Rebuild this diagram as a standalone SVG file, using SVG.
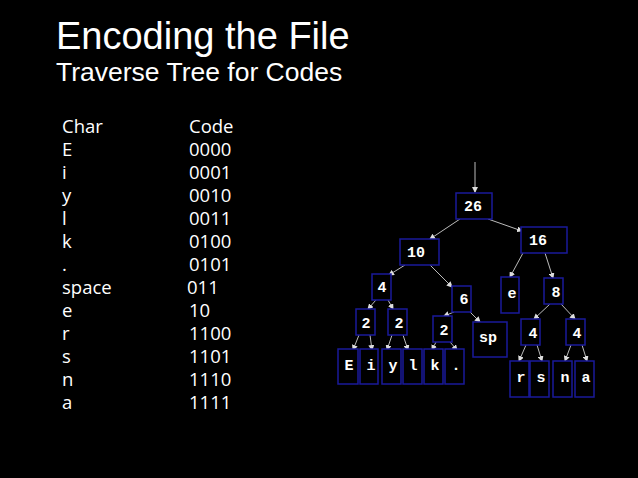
<svg xmlns="http://www.w3.org/2000/svg" width="638" height="478" viewBox="0 0 638 478">
<style>
.t{font-family:"Liberation Sans",Arial,sans-serif;fill:#fff}
.c{font-family:"Open Sans","Liberation Sans",sans-serif;fill:#fff;font-size:18.5px}
.n rect{fill:#000;stroke:#1a1a9a;stroke-width:1.5}
.n text{font-family:"Liberation Mono","Courier New",monospace;font-weight:bold;fill:#fff;font-size:15px;text-anchor:middle}
#edges line{stroke:#bbb;stroke-width:1;marker-end:url(#a)}
</style>
<defs><marker id="a" markerWidth="6" markerHeight="6" refX="5" refY="3" orient="auto" markerUnits="userSpaceOnUse"><path d="M0,0L6,3L0,6z" fill="#ddd"/></marker></defs>
<rect width="638" height="478" fill="#000"/>
<text class="t" x="56" y="49" font-size="38">Encoding the File</text>
<text class="t" x="56" y="81" font-size="26.5">Traverse Tree for Codes</text>
<g class="c">
<text x="62" y="133">Char</text><text x="189" y="133">Code</text>
<text x="62" y="156">E</text><text x="189" y="156">0000</text>
<text x="62" y="179">i</text><text x="189" y="179">0001</text>
<text x="62" y="202">y</text><text x="189" y="202">0010</text>
<text x="62" y="225">l</text><text x="189" y="225">0011</text>
<text x="62" y="248">k</text><text x="189" y="248">0100</text>
<text x="62" y="271">.</text><text x="189" y="271">0101</text>
<text x="62" y="294">space</text><text x="187" y="294">011</text>
<text x="62" y="317">e</text><text x="189" y="317">10</text>
<text x="62" y="340">r</text><text x="189" y="340">1100</text>
<text x="62" y="363">s</text><text x="189" y="363">1101</text>
<text x="62" y="386">n</text><text x="189" y="386">1110</text>
<text x="62" y="409">a</text><text x="189" y="409">1111</text>
</g>
<g id="edges">
<line x1="475" y1="162" x2="475" y2="192"/>
<line x1="460" y1="219" x2="430" y2="239"/>
<line x1="488" y1="219" x2="522" y2="231"/>
<line x1="405" y1="265" x2="389" y2="275"/>
<line x1="430" y1="265" x2="452" y2="287"/>
<line x1="523" y1="253" x2="510" y2="277"/>
<line x1="545" y1="253" x2="553" y2="278"/>
<line x1="376" y1="300" x2="368" y2="309"/>
<line x1="388" y1="300" x2="393" y2="309"/>
<line x1="454" y1="312" x2="444" y2="316"/>
<line x1="470" y1="312" x2="480" y2="322"/>
<line x1="550" y1="304" x2="534" y2="319"/>
<line x1="561" y1="304" x2="575" y2="319"/>
<line x1="359" y1="335" x2="353" y2="350"/>
<line x1="370" y1="335" x2="372" y2="350"/>
<line x1="392" y1="335" x2="387" y2="350"/>
<line x1="403" y1="335" x2="408" y2="350"/>
<line x1="436" y1="342" x2="432" y2="350"/>
<line x1="450" y1="342" x2="457" y2="350"/>
<line x1="526" y1="345" x2="519" y2="361"/>
<line x1="537" y1="345" x2="542" y2="361"/>
<line x1="571" y1="345" x2="565" y2="361"/>
<line x1="582" y1="345" x2="587" y2="361"/>
</g>
<g id="n26" class="n"><rect x="456" y="193" width="36" height="26"/><text x="473" y="211">26</text></g>
<g id="n16" class="n"><rect x="521" y="227" width="46" height="26"/><text x="538" y="245">16</text></g>
<g id="n10" class="n"><rect x="400" y="239" width="39" height="26"/><text x="416" y="257">10</text></g>
<g id="n4a" class="n"><rect x="372" y="274" width="19" height="26"/><text x="382" y="292">4</text></g>
<g id="n6" class="n"><rect x="452" y="286" width="19" height="26"/><text x="464" y="304">6</text></g>
<g id="ne" class="n"><rect x="501" y="277" width="18" height="36"/><text x="512" y="298">e</text></g>
<g id="n8" class="n"><rect x="544" y="278" width="19" height="26"/><text x="556" y="297">8</text></g>
<g id="n2a" class="n"><rect x="356" y="309" width="19" height="26"/><text x="366" y="328">2</text></g>
<g id="n2b" class="n"><rect x="388" y="309" width="19" height="26"/><text x="399" y="328">2</text></g>
<g id="n2c" class="n"><rect x="433" y="316" width="19" height="26"/><text x="444" y="335">2</text></g>
<g id="nsp" class="n"><rect x="473" y="322" width="34" height="35"/><text x="488" y="342">sp</text></g>
<g id="n4r" class="n"><rect x="521" y="319" width="19" height="26"/><text x="533" y="338">4</text></g>
<g id="n4n" class="n"><rect x="566" y="319" width="19" height="26"/><text x="577" y="338">4</text></g>
<g id="nE" class="n"><rect x="338" y="349" width="20" height="35"/><text x="349" y="370">E</text></g>
<g id="ni" class="n"><rect x="360" y="349" width="18" height="35"/><text x="371" y="370">i</text></g>
<g id="ny" class="n"><rect x="382" y="349" width="19" height="35"/><text x="393" y="370">y</text></g>
<g id="nl" class="n"><rect x="403" y="349" width="19" height="35"/><text x="413" y="370">l</text></g>
<g id="nk" class="n"><rect x="424" y="349" width="19" height="35"/><text x="435" y="370">k</text></g>
<g id="ndot" class="n"><rect x="445" y="349" width="19" height="35"/><text x="456" y="370">.</text></g>
<g id="nr" class="n"><rect x="510" y="361" width="19" height="36"/><text x="521" y="382">r</text></g>
<g id="ns" class="n"><rect x="530" y="361" width="19" height="36"/><text x="541" y="382">s</text></g>
<g id="nn" class="n"><rect x="553" y="361" width="19" height="36"/><text x="565" y="382">n</text></g>
<g id="na" class="n"><rect x="575" y="361" width="19" height="36"/><text x="586" y="382">a</text></g>
</svg>
